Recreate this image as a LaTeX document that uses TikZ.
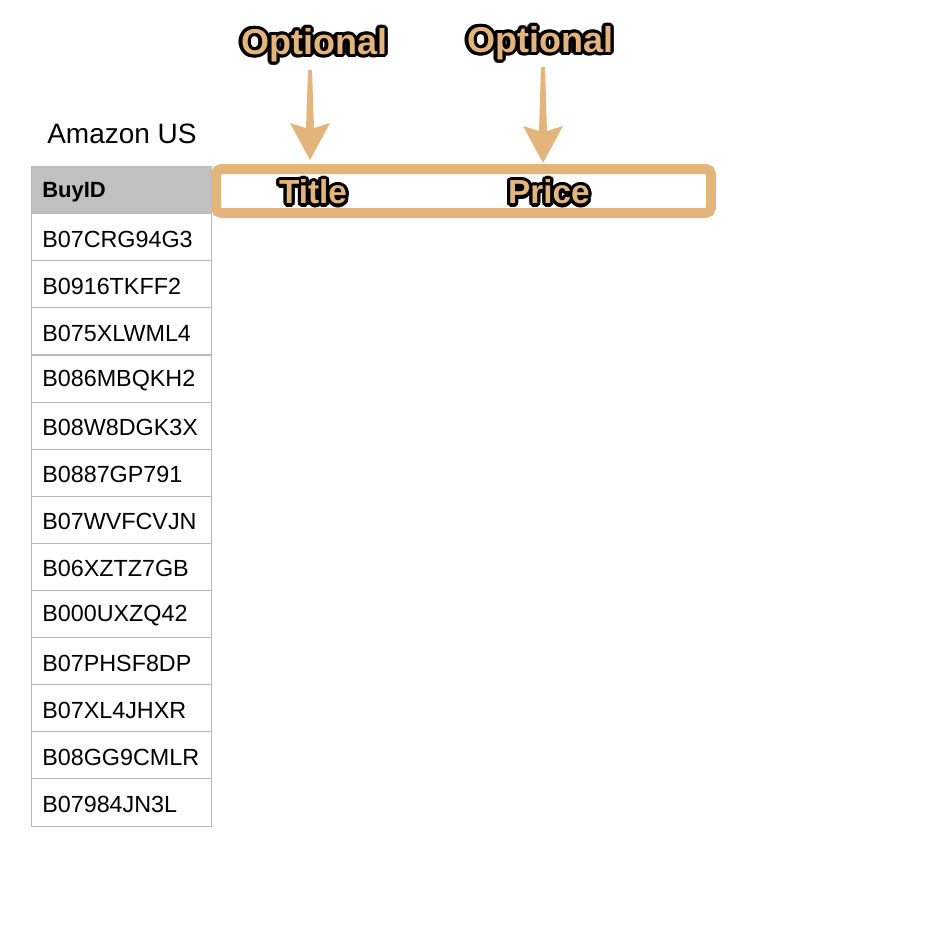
\documentclass[tikz,border=0pt]{standalone}
\usepackage{fontspec}
\setmainfont{Liberation Sans}
\usetikzlibrary{calc}
\definecolor{tan}{HTML}{E3B57C}
\definecolor{hdr}{HTML}{C0C0C0}
\definecolor{grid}{HTML}{B8B8B8}
\newcommand{\outlinedtext}[4]{% name, position, size, text
  \foreach \a in {0,20,...,340}{\node[font=\bfseries\fontsize{#3}{#3}\selectfont,text=black,inner sep=0pt] at ($(#2)+(\a:3.2)$) {#4};}
  \node[font=\bfseries\fontsize{#3}{#3}\selectfont,text=tan,inner sep=0pt] (#1) at (#2) {#4};}
\tikzset{cell/.style={draw=grid,line width=0.6pt,minimum width=135pt,minimum height=35.4pt,anchor=north west,inner sep=0pt},
celltext/.style={anchor=west,inner sep=0pt,font=\fontsize{17.5}{20}\selectfont}}
\begin{document}
\begin{tikzpicture}[x=0.75pt,y=-0.75pt]
\useasboundingbox (0,0) rectangle (950,933);
\node[anchor=west,inner sep=0pt,font=\fontsize{21}{24}\selectfont] (amz) at (47,134) {Amazon US};
\node[cell,fill=hdr] (h) at (31,166) {};
\node[celltext,font=\bfseries\fontsize{16.5}{18}\selectfont] (ht) at (42,192) {BuyID};
\foreach \id [count=\i] in {B07CRG94G3,B0916TKFF2,B075XLWML4,B086MBQKH2,B08W8DGK3X,B0887GP791,B07WVFCVJN,B06XZTZ7GB,B000UXZQ42,B07PHSF8DP,B07XL4JHXR,B08GG9CMLR,B07984JN3L}{
  \node[cell] (c\i) at (31,{166+47.1*\i}) {};
  \node[celltext] (t\i) at (42,{166+47.1*\i+26}) {\id};
}
\draw[tan,line width=7.5pt,rounded corners=4pt] (216,169) rectangle (711,213);
\outlinedtext{o1}{314,45}{27}{Optional}
\outlinedtext{o2}{540,43}{27}{Optional}
\outlinedtext{ti}{313,192}{25}{Title}
\outlinedtext{pr}{549,192}{25}{Price}
\fill[tan] (310,160) -- (290,123) -- (306,128) -- (308,70) -- (312,70) -- (314,128) -- (330,123) -- cycle;
\fill[tan] (543,163) -- (523,126) -- (539,131) -- (541,67) -- (545,67) -- (547,131) -- (563,126) -- cycle;
\end{tikzpicture}
\end{document}
